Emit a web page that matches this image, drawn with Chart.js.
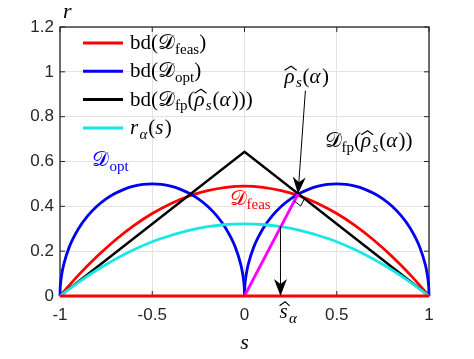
<!DOCTYPE html>
<html>
<head>
<meta charset="utf-8">
<script src="https://cdn.jsdelivr.net/npm/chart.js@4.4.0/dist/chart.umd.min.js"></script>
<style>
  body { margin: 0; background: #fff; }
</style>
</head>
<body>
<canvas id="myChart" width="474" height="359"></canvas>
<script>
// tick labels
const xTickLabels = ['-1', '-0.5', '0', '0.5', '1'];
const yTickLabels = ['0', '0.2', '0.4', '0.6', '0.8', '1', '1.2'];

// bd(D_feas) arc and r_alpha(s), read on a 0.1 grid
const sGrid = [-1, -0.9, -0.8, -0.7, -0.6, -0.5, -0.4, -0.3, -0.2, -0.1, 0, 0.1, 0.2, 0.3, 0.4, 0.5, 0.6, 0.7, 0.8, 0.9, 1];
const rFeas = [0, 0.093, 0.176, 0.25, 0.314, 0.368, 0.412, 0.446, 0.47, 0.485, 0.49, 0.485, 0.47, 0.446, 0.412, 0.368, 0.314, 0.25, 0.176, 0.093, 0];
const rAlpha = [0, 0.061, 0.116, 0.164, 0.206, 0.242, 0.27, 0.293, 0.309, 0.319, 0.322, 0.319, 0.309, 0.293, 0.27, 0.242, 0.206, 0.164, 0.116, 0.061, 0];

// bottom edge of D_feas
const sBase = [-1, 1];
const rBase = [0, 0];

// bd(D_opt): two half discs (denser near the ends)
const sOptLeft = [-1, -0.999, -0.995, -0.99, -0.98, -0.95, -0.9, -0.85, -0.8, -0.75, -0.7, -0.65, -0.6, -0.55, -0.5, -0.45, -0.4, -0.35, -0.3, -0.25, -0.2, -0.15, -0.1, -0.05, -0.02, -0.01, -0.005, -0.001, 0];
const sOptRight = [0, 0.001, 0.005, 0.01, 0.02, 0.05, 0.1, 0.15, 0.2, 0.25, 0.3, 0.35, 0.4, 0.45, 0.5, 0.55, 0.6, 0.65, 0.7, 0.75, 0.8, 0.85, 0.9, 0.95, 0.98, 0.99, 0.995, 0.999, 1];
const rOpt = [0, 0.0316, 0.0705, 0.0995, 0.14, 0.218, 0.3, 0.357, 0.4, 0.433, 0.458, 0.477, 0.49, 0.4975, 0.5, 0.4975, 0.49, 0.477, 0.458, 0.433, 0.4, 0.357, 0.3, 0.218, 0.14, 0.0995, 0.0705, 0.0316, 0];

// bd(D_fp(rho_s(alpha)))
const sFp = [-1, 0, 1];
const rFp = [0, 0.643, 0];

// segment from origin to rho_s(alpha)
const sPerp = [0, 0.29];
const rPerp = [0, 0.455];

// s_alpha arrow (where the segment meets r_alpha)
const sHatAlpha = 0.195;
const rHatAlpha = 0.31;

const SERIF = '"Liberation Serif", "DejaVu Serif", serif';
const SANS = '"Liberation Sans", Arial, sans-serif';

const pts = (xs, ys) => xs.map((x, i) => ({ x: x, y: ys[i] }));

// rich text pieces
const N = t => ({ t });
const I = t => ({ t, it: true });
const SUB = t => ({ t, sub: true });
const SUBI = t => ({ t, sub: true, it: true });
const CAL = { t: '\u{1D49F}' };
const HATI = t => ({ t, it: true, hat: true });

const rhoHat = [HATI('\u03C1'), SUBI('s'), N('('), I('\u03B1'), N(')')];

const legendItems = [
  { color: '#ff0000', parts: [N('bd('), CAL, SUB('feas'), N(')')] },
  { color: '#0000f0', parts: [N('bd('), CAL, SUB('opt'), N(')')] },
  { color: '#000000', parts: [N('bd('), CAL, SUB('fp'), N('(')].concat(rhoHat, [N('))')]) },
  { color: '#19e6e6', parts: [I('r'), SUBI('\u03B1'), N('('), I('s'), N(')')] },
];

const drawRich = (ctx, parts, x, y, size, color) => {
  let cx = x;
  parts.forEach(p => {
    const fs = p.sub ? Math.round(size * 0.7) : size;
    const dy = p.sub ? size * 0.22 : 0;
    ctx.font = (p.it ? 'italic ' : '') + fs + 'px ' + SERIF;
    ctx.fillStyle = color;
    ctx.textAlign = 'left';
    ctx.textBaseline = 'alphabetic';
    ctx.fillText(p.t, cx, y + dy);
    const w = ctx.measureText(p.t).width;
    if (p.hat) {
      const top = y + dy - fs * 0.78;
      ctx.strokeStyle = color;
      ctx.lineWidth = 1.1;
      ctx.beginPath();
      ctx.moveTo(cx, top + 4);
      ctx.lineTo(cx + w / 2 + 1.5, top);
      ctx.lineTo(cx + w + 2, top + 4);
      ctx.stroke();
    }
    cx += w + (p.it ? fs * 0.06 : 0);
  });
  return cx - x;
};

const arrow = (ctx, x0, y0, x1, y1) => {
  const len = 17, half = 6.5;
  const a = Math.atan2(y1 - y0, x1 - x0);
  const ux = Math.cos(a), uy = Math.sin(a);
  ctx.strokeStyle = '#000';
  ctx.lineWidth = 1;
  ctx.beginPath();
  ctx.moveTo(x0, y0);
  ctx.lineTo(x1 - ux * 6, y1 - uy * 6);
  ctx.stroke();
  ctx.fillStyle = '#000';
  ctx.beginPath();
  ctx.moveTo(x1, y1);
  ctx.lineTo(x1 - ux * len - uy * half, y1 - uy * len + ux * half);
  ctx.lineTo(x1 - ux * len * 0.7, y1 - uy * len * 0.7);
  ctx.lineTo(x1 - ux * len + uy * half, y1 - uy * len - ux * half);
  ctx.closePath();
  ctx.fill();
};

// matlab style box with inward ticks
const boxPlugin = {
  id: 'box',
  beforeDatasetsDraw(chart) {
    const { ctx, chartArea: a, scales } = chart;
    ctx.save();
    ctx.strokeStyle = '#262626';
    ctx.lineWidth = 1.3;
    ctx.strokeRect(a.left, a.top, a.right - a.left, a.bottom - a.top);
    ctx.lineWidth = 1;
    ctx.beginPath();
    scales.x.ticks.forEach(t => {
      const px = scales.x.getPixelForValue(t.value);
      ctx.moveTo(px, a.bottom); ctx.lineTo(px, a.bottom - 5);
      ctx.moveTo(px, a.top); ctx.lineTo(px, a.top + 5);
    });
    scales.y.ticks.forEach(t => {
      const py = scales.y.getPixelForValue(t.value);
      ctx.moveTo(a.left, py); ctx.lineTo(a.left + 5, py);
      ctx.moveTo(a.right, py); ctx.lineTo(a.right - 5, py);
    });
    ctx.stroke();
    ctx.restore();
  }
};

const notesPlugin = {
  id: 'notes',
  afterDatasetsDraw(chart) {
    const { ctx, chartArea: a, scales } = chart;
    const X = v => scales.x.getPixelForValue(v);
    const Y = v => scales.y.getPixelForValue(v);
    ctx.save();

    // legend
    legendItems.forEach((item, i) => {
      const ly = a.top + 16 + i * 28.3;
      ctx.strokeStyle = item.color;
      ctx.lineWidth = 3;
      ctx.beginPath();
      ctx.moveTo(a.left + 23, ly);
      ctx.lineTo(a.left + 63, ly);
      ctx.stroke();
      drawRich(ctx, item.parts, a.left + 70, ly + 6, 21, '#000');
    });

    // region labels
    drawRich(ctx, [CAL, SUB('opt')], X(-0.824), Y(0.578), 21, '#0000f0');
    drawRich(ctx, [CAL, SUB('feas')], X(-0.081), Y(0.408), 21, '#ff0000');
    drawRich(ctx, [CAL, SUB('fp'), N('(')].concat(rhoHat, [N(')')]), X(0.434), Y(0.664), 21, '#000');
    drawRich(ctx, rhoHat, X(0.217), Y(0.952), 21, '#000');
    drawRich(ctx, [HATI('s'), SUBI('\u03B1')], X(0.19), Y(-0.099), 21, '#000');

    // arrows
    const px = X(sPerp[1]), py = Y(rPerp[1]);
    arrow(ctx, X(0.33), Y(0.916), px, py);
    arrow(ctx, X(sHatAlpha), Y(rHatAlpha), X(sHatAlpha), Y(0));

    // right angle marker
    const bx = X(1) - px, by = Y(0) - py;
    const bl = Math.hypot(bx, by);
    const mx = X(0) - px, my = Y(0) - py;
    const ml = Math.hypot(mx, my);
    const d = 8;
    ctx.strokeStyle = '#000';
    ctx.lineWidth = 1;
    ctx.beginPath();
    ctx.moveTo(px + bx / bl * d, py + by / bl * d);
    ctx.lineTo(px + bx / bl * d + mx / ml * d, py + by / bl * d + my / ml * d);
    ctx.lineTo(px + mx / ml * d, py + my / ml * d);
    ctx.stroke();

    // axis titles
    ctx.fillStyle = '#000';
    ctx.font = 'italic 22px ' + SERIF;
    ctx.textAlign = 'left';
    ctx.textBaseline = 'alphabetic';
    ctx.fillText('r', a.left + 3, a.top - 9);
    ctx.textAlign = 'center';
    ctx.fillText('s', (a.left + a.right) / 2, a.bottom + 53);
    ctx.restore();
  }
};

const line = (data, color, order, extra) => Object.assign({
  data: data,
  borderColor: color,
  borderWidth: 2.8,
  pointRadius: 0,
  showLine: true,
  fill: false,
  clip: false,
  order: order,
}, extra || {});

const smooth = { cubicInterpolationMode: 'monotone' };

const ctx = document.getElementById('myChart');

new Chart(ctx, {
  type: 'scatter',
  data: {
    datasets: [
      line(pts(sGrid, rFeas), '#ff0000', 6, smooth),
      line(pts(sOptLeft, rOpt), '#0000f0', 5, smooth),
      line(pts(sOptRight, rOpt), '#0000f0', 5, smooth),
      line(pts(sFp, rFp), '#000000', 4, { borderWidth: 2.5 }),
      line(pts(sGrid, rAlpha), '#19e6e6', 3, smooth),
      line(pts(sPerp, rPerp), '#ff00ff', 2),
      line(pts(sBase, rBase), '#ff0000', 1),
    ]
  },
  options: {
    responsive: false,
    animation: false,
    events: [],
    layout: { padding: { top: 27, right: 45, left: 0, bottom: 0 } },
    plugins: {
      legend: { display: false },
      tooltip: { enabled: false },
    },
    scales: {
      x: {
        type: 'linear',
        min: -1,
        max: 1,
        afterFit: s => { s.height = 63; },
        border: { display: false },
        grid: { color: '#e3e3e3', lineWidth: 1, drawTicks: false },
        ticks: {
          stepSize: 0.5,
          padding: 9,
          color: '#262626',
          font: { family: SANS, size: 17 },
          callback: (v, i) => xTickLabels[i],
        },
      },
      y: {
        min: 0,
        max: 1.2,
        afterFit: s => { s.width = 60; },
        border: { display: false },
        grid: { color: '#e3e3e3', lineWidth: 1, drawTicks: false },
        ticks: {
          stepSize: 0.2,
          padding: 6,
          color: '#262626',
          font: { family: SANS, size: 17 },
          callback: (v, i) => yTickLabels[i],
        },
      },
    },
  },
  plugins: [boxPlugin, notesPlugin],
});
</script>
</body>
</html>
